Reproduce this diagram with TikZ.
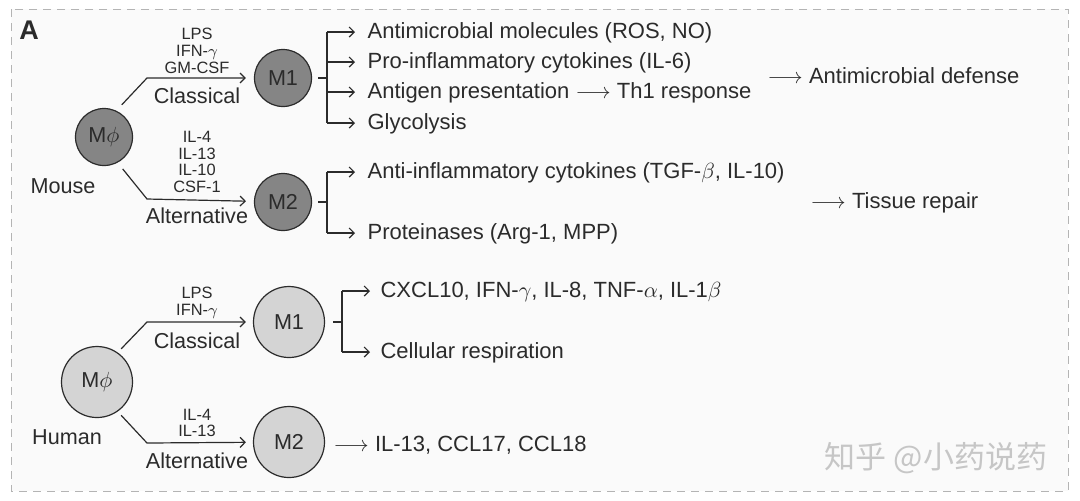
\documentclass[tikz,border=0pt]{standalone}
\usepackage{amsmath, amssymb}
\usepackage{fontspec}
\setmainfont{Liberation Sans}
\newfontfamily\cjk{Noto Sans CJK SC}
\usetikzlibrary{arrows.meta}

\definecolor{ink}{HTML}{2B2B2B}
\definecolor{darkcell}{HTML}{858585}
\definecolor{lightcell}{HTML}{D4D4D4}
\definecolor{frame}{HTML}{B4B4B4}
\definecolor{paper}{HTML}{FAFAFA}

\begin{document}
\begin{tikzpicture}[x=0.5pt, y=-0.5pt, line width=0.6pt, draw=ink,
    cell/.style = {draw=ink, circle, inner sep=0pt, text=ink, font=\fontsize{10.8}{12}\selectfont},
    mousecell/.style = {cell, fill=darkcell, minimum size=28.5pt},
    humancell/.style = {cell, fill=lightcell, minimum size=35.5pt},
    txt/.style = {anchor=west, inner sep=0pt, text=ink, text height=1.8ex, text depth=0.5ex, font=\fontsize{11}{13}\selectfont},
    cue/.style = {align=center, inner sep=0pt, text=ink, font=\fontsize{8.2}{8.4}\selectfont},
    route/.style = {inner sep=0pt, text=ink, font=\fontsize{10.8}{12}\selectfont},
    arr/.style = {-{Straight Barb[length=2.5pt, width=5pt]}}
  ]
    \useasboundingbox (0, 0) rectangle (1080, 500);
    \draw[frame, fill=paper, dashed, line width=0.5pt, dash pattern=on 4pt off 3pt] (11, 9) rectangle (1068, 491);

    \node[inner sep=0pt, text=ink, font=\fontsize{13.5}{15}\bfseries] (panel) at (29, 30) {A};

    % mouse
    \node[mousecell] (mphiM) at (104, 137) {M$\phi$};
    \node[mousecell] (m1M) at (283, 78) {M1};
    \node[mousecell] (m2M) at (283, 202) {M2};
    \node[route] (mouse) at (63, 186) {Mouse};

    \coordinate (kMa) at (147, 78);
    \coordinate (kMb) at (147, 199);
    \draw[arr, shorten <=4pt, shorten >=4pt] (mphiM.65) -- (kMa) -- (m1M);
    \draw[arr, shorten <=4pt, shorten >=4pt] (mphiM.-62) -- (kMb) -- (m2M);

    \node[cue] (cueM1) at (197, 51) {LPS\\IFN-$\gamma$\\GM-CSF};
    \node[route] (classM) at (197, 96) {Classical};
    \node[cue] (cueM2) at (197, 162) {IL-4\\IL-13\\IL-10\\CSF-1};
    \node[route] (altM) at (197, 216) {Alternative};

    \node[txt] (ros) at (367, 32) {Antimicrobial molecules (ROS, NO)};
    \node[txt] (il6) at (367, 62) {Pro-inflammatory cytokines (IL-6)};
    \node[txt] (agp) at (367, 92) {Antigen presentation $\longrightarrow$ Th1 response};
    \node[txt] (gly) at (367, 123) {Glycolysis};
    \node[txt] (tgf) at (367, 172) {Anti-inflammatory cytokines (TGF-$\beta$, IL-10)};
    \node[txt] (arg) at (367, 233) {Proteinases (Arg-1, MPP)};
    \node[txt] (defense) at (767, 77) {$\longrightarrow$ Antimicrobial defense};
    \node[txt] (repair) at (810, 202) {$\longrightarrow$ Tissue repair};

    \coordinate (jM1) at (327, 78);
    \coordinate (jM2) at (327, 202);
    \draw[shorten <=3pt] (m1M) -- (jM1);
    \draw (jM1 |- ros) -- (jM1 |- gly);
    \foreach \t in {ros, il6, agp, gly}
        \draw[arr, shorten >=6pt] (jM1 |- \t) -- (\t.west);
    \draw[shorten <=3pt] (m2M) -- (jM2);
    \draw (jM2 |- tgf) -- (jM2 |- arg);
    \foreach \t in {tgf, arg}
        \draw[arr, shorten >=6pt] (jM2 |- \t) -- (\t.west);

    % human
    \node[humancell] (mphiH) at (97, 382) {M$\phi$};
    \node[humancell] (m1H) at (289, 322) {M1};
    \node[humancell] (m2H) at (289, 442) {M2};
    \node[route] (human) at (67, 437) {Human};

    \coordinate (kHa) at (147, 322);
    \coordinate (kHb) at (147, 443);
    \draw[arr, shorten <=2.5pt, shorten >=3.5pt] (mphiH.55) -- (kHa) -- (m1H);
    \draw[arr, shorten <=2.5pt, shorten >=3.5pt] (mphiH.-55) -- (kHb) -- (m2H);

    \node[cue] (cueH1) at (197, 303) {LPS\\IFN-$\gamma$};
    \node[route] (classH) at (197, 341) {Classical};
    \node[cue] (cueH2) at (197, 423) {IL-4\\IL-13};
    \node[route] (altH) at (197, 461) {Alternative};

    \node[txt] (cxcl) at (380, 291) {CXCL10, IFN-$\gamma$, IL-8, TNF-$\alpha$, IL-1$\beta$};
    \node[txt] (resp) at (380, 352) {Cellular respiration};
    \node[txt] (ccl) at (333, 445) {$\longrightarrow$ IL-13, CCL17, CCL18};

    \coordinate (jH1) at (342, 322);
    \draw[shorten <=4pt] (m1H) -- (jH1);
    \draw (jH1 |- cxcl) -- (jH1 |- resp);
    \foreach \t in {cxcl, resp}
        \draw[arr, shorten >=5pt] (jH1 |- \t) -- (\t.west);

    \node[inner sep=0pt, text=gray!45, font=\cjk\fontsize{15.5}{17}\selectfont] (mark) at (936, 458) {知乎 @小药说药};
\end{tikzpicture}
\end{document}
